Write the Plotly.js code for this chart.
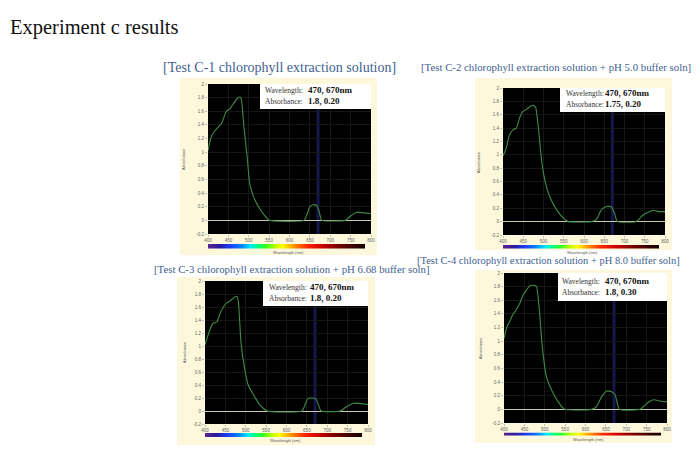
<!DOCTYPE html>
<html><head><meta charset="utf-8">
<script src="https://cdn.plot.ly/plotly-3.0.1.min.js"></script>
<style>html,body{margin:0;padding:0;background:#fff;}#chart{width:700px;height:449px;}</style>
</head><body><div id="chart"></div>
<script>
// ---- data ----
const pageTitle = "Experiment c results";
const panelTitles = [
  "[Test C-1 chlorophyll extraction solution]",
  "[Test C-2 chlorophyll extraction solution + pH 5.0 buffer soln]",
  "[Test C-3 chlorophyll extraction solution + pH 6.68 buffer soln]",
  "[Test C-4 chlorophyll extraction solution + pH 8.0 buffer soln]"
];
const peakWavelengths = ["470, 670nm", "470, 670nm", "470, 670nm", "470, 670nm"];
const peakAbsorbances = ["1.8, 0.20", "1.75, 0.20", "1.8, 0.20", "1.8, 0.30"];
const bandWavelength = 670;

const wl_c1 = [400,406,416,424,433,445,453,461,471,478,482,488,496,502,511,523,539,550,636,650,658,667,673,679,737,749,765,782,800];
const abs_c1 = [1.02,1.19,1.31,1.36,1.42,1.60,1.63,1.70,1.78,1.81,1.77,1.38,0.94,0.55,0.36,0.21,0.07,0,0,0.20,0.23,0.22,0.12,0,0,0.06,0.12,0.11,0.10];
const wl_c2 = [400,408,416,426,433,441,449,458,466,476,481,487,495,503,515,532,548,561,618,631,643,656,668,676,682,728,746,771,784,800];
const abs_c2 = [0.98,1.10,1.30,1.38,1.40,1.55,1.65,1.68,1.72,1.74,1.70,1.43,0.93,0.63,0.38,0.18,0.06,0,0,0.035,0.18,0.23,0.22,0.11,0,0,0.10,0.17,0.15,0.15];
const wl_c3 = [400,412,420,429,437,445,453,461,470,478,482,488,497,506,519,535,552,638,652,660,672,685,732,748,765,800];
const abs_c3 = [1.02,1.25,1.35,1.37,1.50,1.60,1.66,1.69,1.74,1.76,1.68,1.07,0.66,0.40,0.25,0.09,0,0,0.19,0.20,0.19,0,0,0.07,0.12,0.10];
const wl_c4 = [400,406,414,422,430,439,447,455,463,473,480,486,494,504,517,533,549,615,627,640,652,664,673,683,734,751,767,784,800];
const abs_c4 = [1.04,1.19,1.29,1.39,1.46,1.56,1.68,1.75,1.81,1.82,1.80,1.51,0.92,0.48,0.28,0.11,0,0,0.04,0.19,0.27,0.26,0.21,0,0,0.09,0.14,0.12,0.11];

const xTickVals = [400,450,500,550,600,650,700,750,800];
const xTickText = ["400","450","500","550","600","650","700","750","800"];
const yTickVals = [-0.2,0,0.2,0.4,0.6,0.8,1,1.2,1.4,1.6,1.8,2];
const yTickText = ["-0.2","0","0.2","0.4","0.6","0.8","1","1.2","1.4","1.6","1.8","2"];
const spectrumWl = [400,410,420,430,440,450,460,470,480,490,500,510,520,530,540,550,560,570,580,590,600,610,620,630,640,650,660,670,680,690,700,710,720,730,740,750,760,770,780];

// ---- layout geometry (pixels) ----
const W = 700, H = 449;
const px = v => v / W, py = v => 1 - v / H;
const panels = [
  {plot:[208,371,84,234], bar:[244,248.5], box:[180,377,78,255], white:[260,371,84,109],
   title:[279,67,14], lab:[263,306,91,102], yt:[184,159], xt:[288,252]},
  {plot:[503,665,88,235], bar:[245,248.5], box:[475,672,78,250], white:[560,665,88,112],
   title:[556,67,10.8], lab:[564,603,93,104], yt:[478,162], xt:[582,252]},
  {plot:[205,368,281,424], bar:[433,437], box:[177,375,277,445], white:[263,368,281,306],
   title:[292,269,10.8], lab:[267,308,287,298], yt:[184,352], xt:[285,440]},
  {plot:[504,667,273,423], bar:[432.5,436], box:[475,672,270,443], white:[558,667,273,301],
   title:[548,260,10.5], lab:[560,603,281,292], yt:[480,348], xt:[588,439]}
];
const series = [[wl_c1,abs_c1],[wl_c2,abs_c2],[wl_c3,abs_c3],[wl_c4,abs_c4]];

const spectrumScale = [[0,'#5c2290'],[0.07,'#2a1aa0'],[0.15,'#1a40ff'],[0.22,'#0090ff'],[0.27,'#00e8ff'],[0.31,'#00ff90'],[0.37,'#30ff20'],[0.43,'#b8ff00'],[0.48,'#ffff00'],[0.53,'#ffb000'],[0.58,'#ff6a00'],[0.64,'#ff2400'],[0.74,'#c80000'],[0.86,'#6a0000'],[1,'#120000']];

const serif = "Liberation Serif, Times New Roman, serif";
const sans = "Liberation Sans, Arial, sans-serif";
const titleColor = '#42618f';

const traces = [], shapes = [], annotations = [];
const layout = {
  width: W, height: H, margin:{l:0,r:0,t:0,b:0},
  paper_bgcolor:'#ffffff', plot_bgcolor:'rgba(0,0,0,0)', showlegend:false
};

annotations.push({text: pageTitle, xref:'paper', yref:'paper', x:px(8), y:py(27), xanchor:'left', yanchor:'middle',
  showarrow:false, font:{family:serif, size:20.5, color:'#111'}});

panels.forEach((p, i) => {
  const n = i + 1, cb = i + 5;
  const xa = 'xaxis' + (n === 1 ? '' : n), ya = 'yaxis' + (n === 1 ? '' : n);
  const xid = 'x' + (n === 1 ? '' : n), yid = 'y' + (n === 1 ? '' : n);
  layout[xa] = {domain:[px(p.plot[0]), px(p.plot[1])], range:[400,800], anchor:yid,
    tickvals:xTickVals, ticktext:xTickText, tickfont:{family:sans, size:4.5, color:'#666'},
    ticks:'outside', ticklen:2, tickcolor:'#888', tickwidth:0.5,
    showgrid:true, gridcolor:'#161616', gridwidth:1, zeroline:false, showline:false, fixedrange:true};
  layout[ya] = {domain:[py(p.plot[3]), py(p.plot[2])], range:[-0.2,2], anchor:xid,
    tickvals:yTickVals, ticktext:yTickText, tickfont:{family:sans, size:4.5, color:'#666'},
    ticks:'outside', ticklen:2, tickcolor:'#888', tickwidth:0.5,
    showgrid:true, gridcolor:'#161616', gridwidth:1,
    zeroline:true, zerolinecolor:'#cacab0', zerolinewidth:1, showline:false, fixedrange:true};
  // colour bar axes
  layout['xaxis' + cb] = {domain:[px(p.plot[0]), px(p.plot[1])], range:[400,800], anchor:'y' + cb, visible:false, fixedrange:true};
  layout['yaxis' + cb] = {domain:[py(p.bar[1]), py(p.bar[0])], range:[0,1], anchor:'x' + cb, visible:false, fixedrange:true};

  traces.push({type:'heatmap', x:spectrumWl, y:[0,1], z:[spectrumWl, spectrumWl], zmin:400, zmax:780,
    colorscale:spectrumScale, showscale:false, zsmooth:'best', xaxis:'x' + cb, yaxis:'y' + cb, hoverinfo:'skip'});
  traces.push({type:'scatter', mode:'lines', x:series[i][0], y:series[i][1], xaxis:xid, yaxis:yid,
    line:{color:'#3f8a45', width:1.1, shape:'spline', smoothing:0.4}, hoverinfo:'skip'});

  // beige panel background
  shapes.push({type:'rect', xref:'paper', yref:'paper', layer:'below',
    x0:px(p.box[0]), x1:px(p.box[1]), y0:py(p.box[3]), y1:py(p.box[2]),
    fillcolor:'#fdf8dc', line:{width:0}});
  // black plot area
  shapes.push({type:'rect', xref:xid + ' domain', yref:yid + ' domain', layer:'below',
    x0:0, x1:1, y0:0, y1:1, fillcolor:'#000000', line:{width:0}});
  // blue wavelength marker band
  shapes.push({type:'line', xref:xid, yref:yid + ' domain', layer:'below',
    x0:bandWavelength, x1:bandWavelength, y0:0, y1:1, line:{color:'#16164c', width:3}});
  // white readout box
  shapes.push({type:'rect', xref:'paper', yref:'paper', layer:'above',
    x0:px(p.white[0]), x1:px(p.white[1]), y0:py(p.white[3]), y1:py(p.white[2]),
    fillcolor:'#ffffff', line:{width:0}});

  annotations.push({text:panelTitles[i], xref:'paper', yref:'paper', x:px(p.title[0]), y:py(p.title[1]),
    xanchor:'center', yanchor:'middle', showarrow:false, font:{family:serif, size:p.title[2], color:titleColor}});
  annotations.push({text:'Wavelength:', xref:'paper', yref:'paper', x:px(p.lab[0]), y:py(p.lab[2]),
    xanchor:'left', yanchor:'middle', showarrow:false, font:{family:serif, size:7.5, color:'#333'}});
  annotations.push({text:'<b>' + peakWavelengths[i] + '</b>', xref:'paper', yref:'paper', x:px(p.lab[1]), y:py(p.lab[2] - 0.5),
    xanchor:'left', yanchor:'middle', showarrow:false, font:{family:serif, size:9, color:'#111'}});
  annotations.push({text:'Absorbance:', xref:'paper', yref:'paper', x:px(p.lab[0]), y:py(p.lab[3]),
    xanchor:'left', yanchor:'middle', showarrow:false, font:{family:serif, size:7.5, color:'#333'}});
  annotations.push({text:'<b>' + peakAbsorbances[i] + '</b>', xref:'paper', yref:'paper', x:px(p.lab[1]), y:py(p.lab[3] - 0.5),
    xanchor:'left', yanchor:'middle', showarrow:false, font:{family:serif, size:9, color:'#111'}});
  annotations.push({text:'Absorbance', xref:'paper', yref:'paper', x:px(p.yt[0]), y:py(p.yt[1]), textangle:-90,
    xanchor:'center', yanchor:'middle', showarrow:false, font:{family:sans, size:4, color:'#555'}});
  annotations.push({text:'Wavelength (nm)', xref:'paper', yref:'paper', x:px(p.xt[0]), y:py(p.xt[1]),
    xanchor:'center', yanchor:'middle', showarrow:false, font:{family:sans, size:4, color:'#555'}});
});

layout.shapes = shapes;
layout.annotations = annotations;
Plotly.newPlot('chart', traces, layout, {staticPlot:true, displayModeBar:false});
</script>
</body></html>
